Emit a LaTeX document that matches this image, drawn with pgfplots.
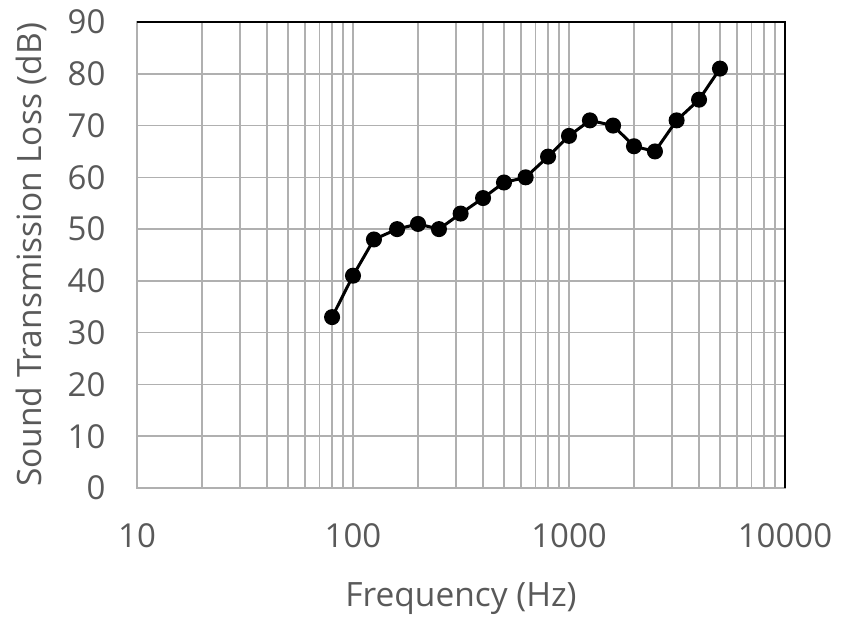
\documentclass[border=0pt]{standalone}
\usepackage{pgfplots}
\pgfplotsset{compat=1.18}
\usepackage{fontspec}
\setmainfont{Open Sans}
\definecolor{txtgray}{HTML}{595959}
\definecolor{gridgray}{HTML}{B0B0B0}
\begin{document}
\begin{tikzpicture}
\begin{axis}[
  scale only axis,
  width=648bp, height=466bp,
  xmode=log, log basis x=10,
  xmin=10, xmax=10000,
  ymin=0, ymax=90,
  ytick={0,10,...,90},
  xtick={10,100,1000,10000},
  xticklabels={10,100,1000,10000},
  minor xtick={20,30,40,50,60,70,80,90,200,300,400,500,600,700,800,900,2000,3000,4000,5000,6000,7000,8000,9000},
  /pgf/number format/assume math mode=true,
  grid=both,
  major grid style={draw=gridgray, line width=1.6bp},
  minor grid style={draw=gridgray, line width=1.6bp},
  major tick length=0pt, minor tick length=0pt,
  axis line style={draw=gridgray, line width=1.6bp},
  tick label style={font=\fontsize{33bp}{38bp}\selectfont, text=txtgray},
  yticklabel style={xshift=-28bp},
  xticklabel style={yshift=-32bp},
  label style={font=\fontsize{33.5bp}{38bp}\selectfont, text=txtgray},
  xlabel={Frequency (Hz)},
  ylabel={Sound Transmission Loss (dB)},
  xlabel style={yshift=-28bp},
  ylabel style={yshift=14bp},
  clip=false,
]
\addplot[black, line width=3bp, mark=*, mark size=6.5bp, mark options={fill=black}] coordinates {
(80,33) (100,41) (125,48) (160,50) (200,51) (250,50) (315,53) (400,56)
(500,59) (630,60) (800,64) (1000,68) (1250,71) (1600,70) (2000,66)
(2500,65) (3150,71) (4000,75) (5000,81)
};
\draw[black, line width=1.8bp] (rel axis cs:0,1) -- (rel axis cs:1,1) -- (rel axis cs:1,0);
\useasboundingbox (rel axis cs:0,0) ++(-137bp,-132bp) rectangle ([shift={(65bp,22bp)}]rel axis cs:1,1);
\end{axis}
\end{tikzpicture}
\end{document}
